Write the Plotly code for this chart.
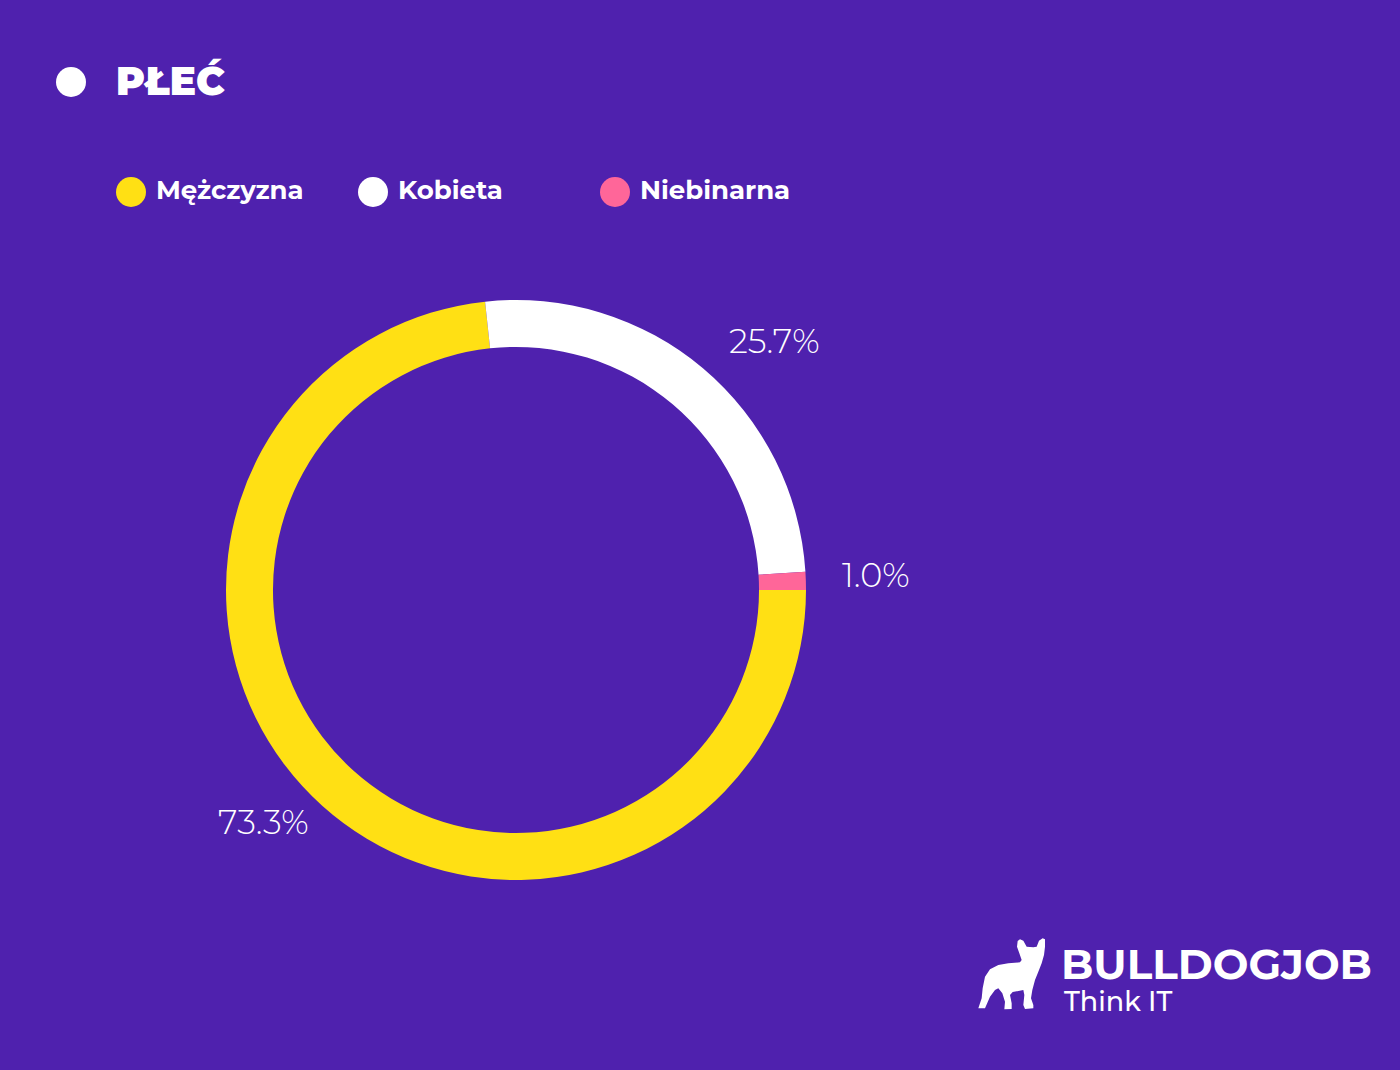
import plotly.graph_objects as go

# Data
labels = ['Mężczyzna', 'Kobieta', 'Niebinarna']
values = [73.3, 25.7, 1.0]
colors = ['#FFE014', '#FFFFFF', '#FF6699']
label_pos = [(263, 822), (774, 341), (876, 575)]

title = 'PŁEĆ'
legend_x = [116, 358, 600]

W, H = 1400, 1070
BG = '#4F21AE'
FONT = 'Montserrat, Lato, "Open Sans", sans-serif'

dog_outline = [
    (25, 235), (35, 205), (38, 175), (45, 140), (60, 118), (85, 105), (115, 100),
    (150, 97), (155, 90), (148, 70), (141, 50), (143, 33), (150, 28), (160, 32),
    (170, 50), (190, 52), (200, 50), (207, 32), (218, 25), (225, 28), (225, 50),
    (222, 75), (215, 100), (205, 125), (195, 150), (187, 180), (183, 205), (190, 225),
    (190, 235), (165, 237), (160, 225), (163, 195), (160, 180), (128, 186), (120, 195),
    (125, 220), (125, 237), (103, 238), (105, 215), (97, 190), (85, 175), (75, 180),
    (60, 200), (45, 235),
]

def px(x):
    return x / W

def py(y):
    return 1 - y / H

fig = go.Figure()

fig.add_trace(go.Pie(
    labels=labels,
    values=values,
    marker=dict(colors=colors, line=dict(width=0)),
    hole=0.838,
    sort=False,
    direction='clockwise',
    rotation=90,
    textinfo='none',
    hoverinfo='label+percent',
    showlegend=False,
    domain=dict(x=[px(226), px(806)], y=[py(880), py(300)]),
))

shapes = []
annotations = []


def dot(cx, cy, r, color):
    shapes.append(dict(type='circle', xref='paper', yref='paper',
                       x0=px(cx - r), x1=px(cx + r), y0=py(cy + r), y1=py(cy - r),
                       fillcolor=color, line=dict(width=0)))


def text(x, y, s, size, weight=400, anchor='left', font=FONT):
    annotations.append(dict(xref='paper', yref='paper', x=px(x), y=py(y),
                            text=s, showarrow=False, xanchor=anchor, yanchor='middle',
                            borderpad=0, borderwidth=0,
                            font=dict(family=font, size=size, color='white', weight=weight)))


# Title
dot(71, 82, 15, 'white')
text(116, 81, title, 39, 900)

# Legend
for name, col, x in zip(labels, colors, legend_x):
    dot(x + 15, 192, 15, col)
    text(x + 40, 190, name, 26, 700)

# Percent labels
for v, (x, y) in zip(values, label_pos):
    text(x, y, f'{v:.1f}%', 33.5, 300, anchor='center')

# Logo
text(1061, 964, 'BULLDOGJOB', 42.3, 700)
text(1064, 1001, 'Think IT', 27, 500)

# Dog silhouette
shapes.append(dict(
    type='path', xref='paper', yref='paper', fillcolor='white', line=dict(width=0),
    path='M ' + ' L '.join(f'{px(970 + x / 3)} {py(930 + y / 3)}' for x, y in dog_outline) + ' Z'))

fig.update_layout(
    width=W, height=H,
    paper_bgcolor=BG,
    plot_bgcolor=BG,
    margin=dict(l=0, r=0, t=0, b=0),
    shapes=shapes,
    annotations=annotations,
)

# default page has an 8px body margin
fig.write_html('out.html', config=dict(displayModeBar=False),
               post_script="document.body.style.margin='0';document.body.style.background='%s';" % BG)
